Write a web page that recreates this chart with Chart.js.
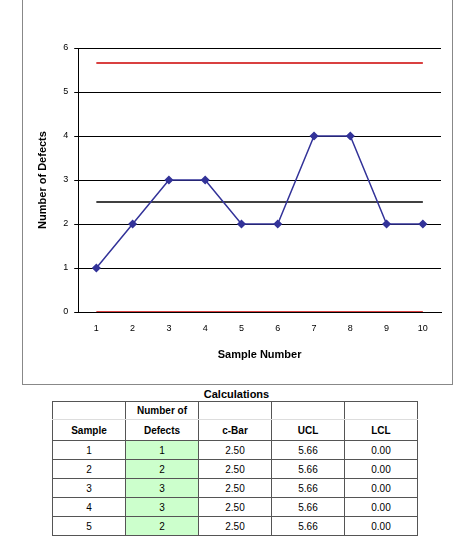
<!DOCTYPE html>
<html><head><meta charset="utf-8">
<script src="https://cdn.jsdelivr.net/npm/chart.js@4"></script>
<style>
body{margin:0;background:#fff;font-family:Arial,"Liberation Sans",sans-serif;}
#box{position:absolute;left:22px;top:0;width:431px;height:385px;border:1px solid #888;border-top:none;box-sizing:border-box;}
#wrap{position:absolute;left:22px;top:0;width:431px;height:384px;}
#cap{position:absolute;left:52px;top:388px;width:369px;text-align:center;font-size:11px;font-weight:bold;}
table{position:absolute;left:52px;top:401px;border-collapse:collapse;font-size:10px;}
td{border:1px solid #555;width:72px;height:18px;padding:0;text-align:center;}
td.g{background:#ccffcc;}
.h td{font-weight:bold;}
.h0 td{border-top:1px solid #555;border-bottom:1px solid #ddd;height:17px;}
.h1 td{height:20px;border-bottom:1px solid #555;border-top:none;}
</style></head><body>
<div id="box"></div>
<div id="wrap"><canvas id="c"></canvas></div>
<div id="cap">Calculations</div>
<table id="t"></table>
<script>
const samples=['1','2','3','4','5','6','7','8','9','10'];
const defects=[1,2,3,3,2,2,4,4,2,2];
const cBar=[2.5,2.5,2.5,2.5,2.5,2.5,2.5,2.5,2.5,2.5];
const ucl=[5.66,5.66,5.66,5.66,5.66,5.66,5.66,5.66,5.66,5.66];
const lcl=[0,0,0,0,0,0,0,0,0,0];
const yTicks=[0,1,2,3,4,5,6];
const t=document.getElementById('t');
let html='<tr class="h h0"><td></td><td>Number of</td><td></td><td></td><td></td></tr>'+
'<tr class="h h1"><td>Sample</td><td>Defects</td><td>c-Bar</td><td>UCL</td><td>LCL</td></tr>';
for(let i=0;i<5;i++)html+=`<tr><td>${samples[i]}</td><td class="g">${defects[i]}</td><td>${cBar[i].toFixed(2)}</td><td>${ucl[i].toFixed(2)}</td><td>${lcl[i].toFixed(2)}</td></tr>`;
t.innerHTML=html;
const flat=(d,c)=>({data:d,borderColor:c,borderWidth:1.5,pointRadius:0,fill:false});
new Chart(document.getElementById('c'),{type:'line',
data:{labels:samples,datasets:[
{data:defects,borderColor:'#333399',backgroundColor:'#333399',borderWidth:1.5,pointStyle:'rectRot',pointRadius:3.5},
flat(ucl,'#cc0000'),flat(cBar,'#000000'),flat(lcl,'#cc0000')]},
options:{animation:false,responsive:true,maintainAspectRatio:false,
layout:{padding:{top:48,right:12,bottom:18,left:10}},
plugins:{legend:{display:false},tooltip:{enabled:false}},
scales:{
x:{offset:true,grid:{display:false},border:{color:'#000'},ticks:{color:'#000',font:{size:9,family:'Arial'}},
 title:{display:true,text:'Sample Number',color:'#000',font:{size:11,weight:'bold',family:'Arial'},padding:{top:12}}},
y:{min:0,max:6,afterBuildTicks:a=>{a.ticks=yTicks.map(v=>({value:v}));},grid:{color:'#000',drawTicks:true,tickLength:4},border:{color:'#000'},
 ticks:{color:'#000',font:{size:9,family:'Arial'},padding:6},
 title:{display:true,text:'Number of Defects',color:'#000',font:{size:11,weight:'bold',family:'Arial'},padding:{bottom:8}}}
}}});
</script></body></html>
